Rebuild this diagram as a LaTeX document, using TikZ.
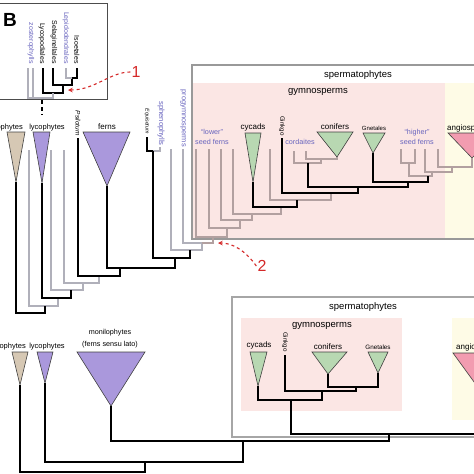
\documentclass[tikz,border=0pt]{standalone}
\usepackage{fontspec}
\setmainfont{Liberation Sans}
\usepackage{tikz}
\pgfdeclarelayer{bg}
\pgfsetlayers{bg,main}
\definecolor{tipgray}{RGB}{176,176,186}
\definecolor{sfgray}{RGB}{178,160,160}
\definecolor{taxblue}{RGB}{104,100,190}
\definecolor{lycfill}{RGB}{170,152,220}
\definecolor{tanfill}{RGB}{214,200,180}
\definecolor{gymfill}{RGB}{184,216,178}
\definecolor{angfill}{RGB}{242,156,176}
\definecolor{gympink}{RGB}{251,230,228}
\definecolor{angyel}{RGB}{254,251,230}
\definecolor{arrred}{RGB}{212,40,40}
\tikzset{empty/.style={draw=none, fill=none, minimum size=0mm, inner sep=0mm}}
\tikzset{taxon/.style={inner sep=0pt, font=\fontsize{7.5}{8}\selectfont},
         grp/.style={inner sep=0pt, font=\fontsize{9.5}{10}\selectfont},
         vtaxon/.style={rotate=-90, anchor=east, inner sep=0pt, font=\fontsize{7}{8}\selectfont},
         genus/.style={vtaxon, font=\fontsize{6.5}{7}\selectfont\itshape},
         fossil/.style={text=taxblue},
         blk/.style={draw=black, line width=1.7pt},
         gry/.style={draw=tipgray, line width=1.6pt},
         sfg/.style={draw=sfgray, line width=1.6pt},
         clade/.style={draw=black!75, line width=0.6pt},
         tag/.style={draw=arrred, dashed, line width=1.1pt, ->, >=stealth}}

\begin{document}
\begin{tikzpicture}[x=1pt, y=-1pt]
    \useasboundingbox (0,0) rectangle (474,474);

    \begin{pgfonlayer}{bg}
        % upper panel boxes
        \fill[gympink] (192,83) rectangle (445,238);
        \fill[angyel] (445,83) rectangle (490,238);
        \draw[gray!80, line width=1.2pt] (192,65) rectangle (490,239);
        \draw[gray!60!black, line width=0.9pt] (-5,3) rectangle (107,99);
        % lower panel boxes
        \fill[gympink] (241,318) rectangle (402,411);
        \fill[angyel] (452,318) rectangle (490,420);
        \draw[gray!70, line width=1.2pt] (232,297) rectangle (490,437);
    \end{pgfonlayer}

    \node (B) at (10,20) [inner sep=0pt, font=\fontsize{19}{20}\selectfont\bfseries] {B};

    % inset: lycophyte orders
    \node (zos) at (31,64) [vtaxon, fossil] {zosterophylls};
    \node (lyd) at (42,64) [vtaxon] {Lycopodiales};
    \node (sel) at (54,64) [vtaxon] {Selaginellales};
    \node (lep) at (66,64) [vtaxon, fossil] {Lepidodendrales};
    \node (iso) at (77,64) [vtaxon] {Isoetales};
    \coordinate (zos1) at (28,68);
    \coordinate (zos2) at (33,68);
    \coordinate (lydT) at (43,68);
    \coordinate (selT) at (53,68);
    \coordinate (lepT) at (66,68);
    \coordinate (isoT) at (77,68);
    \coordinate (i4) at (72,78);
    \coordinate (i3) at (63,85);
    \coordinate (i2) at (53,93);
    \coordinate (i1) at (40,98);
    \draw[blk] (isoT) |- (i4) (selT) |- (i3) (i4) |- (i3) (lydT) |- (i2) (i3) |- (i2);
    \draw[gry] (lepT) |- (i4) (zos1) |- (i1) (zos2) |- (i1) (i2) |- (i1);
    \coordinate (insB) at (42,100);
    \coordinate (lycT) at (42,115);
    \draw[blk, dash pattern=on 4pt off 3pt] (insB) -- (lycT);

    % upper tree: labels and clades
    \node (bry) at (23,128) [taxon, anchor=east] {bryophytes};
    \node (lyc) at (47,128) [taxon] {lycophytes};
    \node (fern) at (107,127) [taxon, font=\fontsize{8}{9}\selectfont] {ferns};
    \node (psi) at (78,136) [genus] {Psilotum};
    \node (equ) at (147,134) [genus, font=\fontsize{5.3}{6}\selectfont\itshape] {Equisetum};
    \node (sph) at (161,146) [vtaxon, fossil, font=\fontsize{7.6}{8}\selectfont] {sphenophylls};
    \node (pro) at (183,147) [vtaxon, fossil, font=\fontsize{7.4}{8}\selectfont] {progymnosperms};
    \node (sperm) at (358,75) [grp] {spermatophytes};
    \node (gymn) at (318,92) [grp] {gymnosperms};
    \node (lsf) at (212,137) [taxon, fossil, align=center, font=\fontsize{7.2}{10.5}\selectfont] {``lower''\\seed ferns};
    \node (cyc) at (253,127) [taxon, font=\fontsize{8}{9}\selectfont] {cycads};
    \node (gin) at (282,136) [vtaxon, font=\fontsize{6.2}{7}\selectfont] {Ginkgo};
    \node (cor) at (300,142) [taxon, fossil, font=\fontsize{7.2}{8}\selectfont] {cordaites};
    \node (con) at (335,127) [taxon, font=\fontsize{8}{9}\selectfont] {conifers};
    \node (gne) at (374,128) [taxon, font=\fontsize{6}{7}\selectfont] {Gnetales};
    \node (hsf) at (417,137) [taxon, fossil, align=center, font=\fontsize{7.2}{10.5}\selectfont] {``higher''\\seed ferns};
    \node (ang) at (447,128) [taxon, anchor=west, font=\fontsize{8}{9}\selectfont] {angiosperms};

    \filldraw[clade, fill=tanfill] (7,132) -- (25,132) -- (16,182) -- cycle;
    \filldraw[clade, fill=lycfill] (33,132) -- (50,132) -- (42,183) -- cycle;
    \filldraw[clade, fill=lycfill] (83,132) -- (130,132) -- (107,186) -- cycle;
    \filldraw[clade, fill=gymfill] (245,133) -- (261,133) -- (253,182) -- cycle;
    \filldraw[clade, fill=gymfill] (317,132) -- (353,132) -- (337,157) -- cycle;
    \filldraw[clade, fill=gymfill] (363,133) -- (385,133) -- (373,153) -- cycle;
    \filldraw[clade, fill=angfill] (448,133) -- (496,133) -- (472,158) -- cycle;

    \coordinate (bryA) at (16,182);
    \coordinate (lycA) at (42,183);
    \coordinate (fernA) at (107,186);
    \coordinate (cycA) at (253,182);
    \coordinate (conA) at (337,157);
    \coordinate (gneA) at (373,153);
    \coordinate (angA) at (472,158);
    \coordinate (t29) at (29,150);
    \coordinate (t51) at (51,150);
    \coordinate (t64) at (64,150);
    \coordinate (psiT) at (78,138);
    \coordinate (equT) at (147,137);
    \coordinate (sphT) at (160,147);
    \coordinate (t171) at (171,149);
    \coordinate (proT) at (183,149);
    \coordinate (sf1) at (196,149);
    \coordinate (sf2) at (209,149);
    \coordinate (sf3) at (221,149);
    \coordinate (sf4) at (233,149);
    \coordinate (t270) at (270,149);
    \coordinate (ginT) at (282,138);
    \coordinate (cor1) at (294,151);
    \coordinate (cor2) at (306,151);
    \coordinate (hi1) at (401,149);
    \coordinate (hi2) at (415,149);
    \coordinate (hi3) at (425,149);
    \coordinate (hi4) at (438,149);

    \coordinate (ue) at (153,151);
    \coordinate (ucf) at (321,159);
    \coordinate (uc) at (308,163);
    \coordinate (uh) at (409,163);
    \coordinate (u1) at (30,313);
    \coordinate (u2) at (45,306);
    \coordinate (u3) at (58,298);
    \coordinate (u4) at (71,290);
    \coordinate (u5) at (83,283);
    \coordinate (u6) at (99,276);
    \coordinate (u7) at (120,268);
    \coordinate (u8) at (175,258);
    \coordinate (u9) at (190,250);
    \coordinate (u10) at (202,243);
    \coordinate (u11) at (213,237);
    \coordinate (u12) at (227,228);
    \coordinate (u13) at (240,220);
    \coordinate (u14) at (252,214);
    \coordinate (u15) at (281,207);
    \coordinate (u16) at (297,200);
    \coordinate (u17) at (331,193);
    \coordinate (u18) at (358,187);
    \coordinate (u19) at (408,182);
    \coordinate (u20) at (428,176);
    \coordinate (u21) at (432,172);
    \coordinate (u22) at (452,167);

    \draw[gry] (t29) |- (u2) (u3) |- (u2) (t51) |- (u4) (u5) |- (u4) (t64) |- (u5) (u6) |- (u5);
    \draw[gry] (sphT) |- (ue) (t171) |- (u9) (u10) |- (u9) (proT) |- (u10);
    \draw[sfg] (u11) |- (u10) (sf1) |- (u11) (u12) |- (u11) (sf2) |- (u12) (u13) |- (u12);
    \draw[sfg] (sf3) |- (u13) (u14) |- (u13) (sf4) |- (u14) (u15) |- (u14);
    \draw[sfg] (t270) |- (u16) (u17) |- (u16) (cor1) |- (uc) (ucf) |- (uc) (cor2) |- (ucf) (conA) |- (ucf);
    \draw[sfg] (uh) |- (u20) (u21) |- (u20) (hi1) |- (uh) (hi2) |- (uh);
    \draw[sfg] (hi3) |- (u21) (u22) |- (u21) (hi4) |- (u22) (angA) |- (u22);
    \draw[blk] (bryA) |- (u1) (u2) |- (u1) (lycA) |- (u3) (u4) |- (u3);
    \draw[blk] (psiT) |- (u6) (u7) |- (u6) (fernA) |- (u7) (u8) |- (u7);
    \draw[blk] (equT) |- (ue) (ue) |- (u8) (u9) |- (u8);
    \draw[blk] (cycA) |- (u15) (u16) |- (u15) (ginT) |- (u17) (u18) |- (u17);
    \draw[blk] (uc) |- (u18) (u19) |- (u18) (gneA) |- (u19) (u20) |- (u19);

    % numbered markers
    \node (one) at (136,72) [inner sep=1pt, text=arrred, font=\fontsize{16}{16}\selectfont] {1};
    \coordinate (oneT) at (68,90);
    \draw[tag] (one.west) .. controls (110,72) and (95,90) .. (oneT);
    \node (two) at (262,266) [inner sep=1pt, text=arrred, font=\fontsize{16}{16}\selectfont] {2};
    \coordinate (twoT) at (218,243);
    \draw[tag] (two.west) .. controls (245,250) and (232,243) .. (twoT);

    % lower tree
    \node (bryL) at (26,347) [taxon, anchor=east] {bryophytes};
    \node (lycL) at (47,347) [taxon] {lycophytes};
    \node (mon) at (110,339) [taxon, align=center, font=\fontsize{7.2}{12}\selectfont] {monilophytes\\(ferns sensu lato)};
    \node (spermL) at (363,307) [grp] {spermatophytes};
    \node (gymnL) at (322,326) [grp] {gymnosperms};
    \node (cycL) at (259,345) [taxon, font=\fontsize{8}{9}\selectfont] {cycads};
    \node (ginL) at (285,352) [vtaxon, font=\fontsize{6.2}{7}\selectfont] {Ginkgo};
    \node (conL) at (328,347) [taxon, font=\fontsize{8}{9}\selectfont] {conifers};
    \node (gneL) at (378,347) [taxon, font=\fontsize{6.3}{7}\selectfont] {Gnetales};
    \node (angL) at (456,347) [taxon, anchor=west, font=\fontsize{8}{9}\selectfont] {angiosperms};

    \filldraw[clade, fill=tanfill] (12,352) -- (28,352) -- (20,385) -- cycle;
    \filldraw[clade, fill=lycfill] (37,352) -- (53,352) -- (45,383) -- cycle;
    \filldraw[clade, fill=lycfill] (77,352) -- (145,352) -- (111,406) -- cycle;
    \filldraw[clade, fill=gymfill] (250,352) -- (267,352) -- (258,386) -- cycle;
    \filldraw[clade, fill=gymfill] (312,352) -- (347,352) -- (328,374) -- cycle;
    \filldraw[clade, fill=gymfill] (368,352) -- (388,352) -- (378,373) -- cycle;
    \filldraw[clade, fill=angfill] (453,353) -- (501,353) -- (477,386) -- cycle;

    \coordinate (bryLA) at (20,385);
    \coordinate (lycLA) at (45,383);
    \coordinate (monA) at (111,406);
    \coordinate (cycLA) at (258,386);
    \coordinate (ginLT) at (285,355);
    \coordinate (conLA) at (328,374);
    \coordinate (gneLA) at (378,373);
    \coordinate (angLA) at (477,386);
    \coordinate (l1) at (80,472);
    \coordinate (l2) at (145,462);
    \coordinate (l3) at (243,441);
    \coordinate (l4) at (389,434);
    \coordinate (l5) at (291,400);
    \coordinate (l6) at (322,391);
    \coordinate (l7) at (356,387);

    \draw[blk] (bryLA) |- (l1) (l2) |- (l1) (lycLA) |- (l2) (l3) |- (l2);
    \draw[blk] (monA) |- (l3) (l4) |- (l3) (l5) |- (l4) (angLA) |- (l4);
    \draw[blk] (cycLA) |- (l5) (l6) |- (l5) (ginLT) |- (l6) (l7) |- (l6);
    \draw[blk] (conLA) |- (l7) (gneLA) |- (l7);
\end{tikzpicture}
\end{document}
